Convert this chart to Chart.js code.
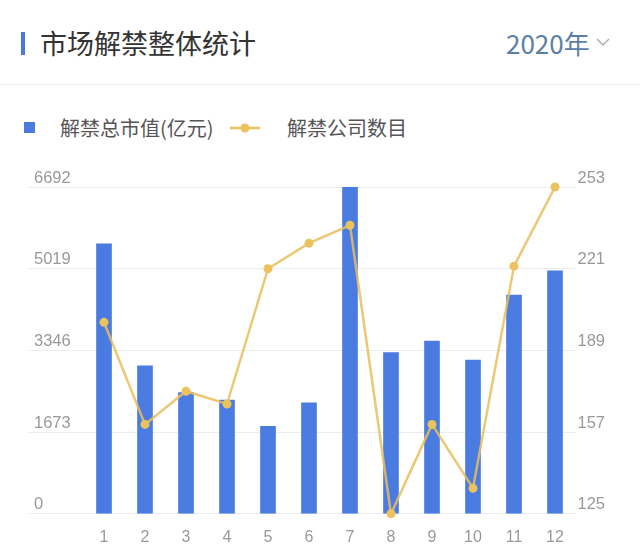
<!DOCTYPE html>
<html>
<head>
<meta charset="utf-8">
<script src="https://cdn.jsdelivr.net/npm/chart.js@4/dist/chart.umd.min.js"></script>
<style>
    body { margin: 0; width: 640px; height: 557px; background: #fff; position: relative; overflow: hidden; font-family: "Noto Sans CJK SC", sans-serif; }
    .bar { position: absolute; left: 21px; top: 32px; width: 4px; height: 23px; background: #4a7bd4; }
    .title { position: absolute; left: 40px; top: 24px; font-size: 27px; line-height: 38px; color: #333; }
    .year { position: absolute; left: 506px; top: 24px; font-size: 26px; line-height: 38px; color: #5b7fa6; }
    .chev { position: absolute; left: 595px; top: 35px; }
    .sep { position: absolute; left: 0; top: 84px; width: 640px; height: 1px; background: #ececec; }
    .lg { position: absolute; top: 113px; font-size: 20px; line-height: 30px; color: #555; }
    .sq { position: absolute; left: 24px; top: 122px; width: 11px; height: 11px; background: #4a7be0; }
    .ln { position: absolute; left: 230px; top: 119px; }
    #wrap { position: absolute; left: 0; top: 140px; width: 640px; height: 432px; }
</style>
</head>
<body>
<div class="bar"></div>
<div class="title">市场解禁整体统计</div>
<div class="year">2020年</div>
<svg class="chev" width="16" height="14"><polyline points="2,4 8,10 14,4" fill="none" stroke="#aaa" stroke-width="1.4"/></svg>
<div class="sep"></div>
<div class="sq"></div>
<div class="lg" style="left:60px">解禁总市值(亿元)</div>
<svg class="ln" width="30" height="18"><line x1="0" y1="9" x2="30" y2="9" stroke="#ebc25e" stroke-width="2.5"/><circle cx="15" cy="9" r="4.5" fill="#ebc25e"/></svg>
<div class="lg" style="left:287px">解禁公司数目</div>
<div id="wrap"><canvas id="myChart"></canvas></div>
<script>
    // months
    const months = ['1', '2', '3', '4', '5', '6', '7', '8', '9', '10', '11', '12'];
    // 解禁总市值(亿元)
    const marketValue = [5530, 3030, 2480, 2330, 1790, 2270, 6692, 3300, 3535, 3150, 4480, 4975];
    // 解禁公司数目
    const companyCount = [200, 160, 173, 168, 221, 231, 238, 125, 160, 135, 222, 253];
    // axis ticks
    const leftTicks = [0, 1673, 3346, 5019, 6692];
    const rightTicks = [125, 157, 189, 221, 253];

    const plain = (v) => String(v);

    const ctx = document.getElementById('myChart').getContext('2d');
    const myChart = new Chart(ctx, {
        type: 'bar',
        data: {
            labels: months,
            datasets: [{
                    type: 'line',
                    label: '解禁公司数目',
                    data: companyCount,
                    yAxisID: 'yRight',
                    borderColor: 'rgba(232, 190, 92, 0.85)',
                    backgroundColor: '#ebc25e',
                    borderWidth: 2.5,
                    pointRadius: 4.5,
                    pointBorderWidth: 0,
                    pointBackgroundColor: '#ebc25e',
                    tension: 0,
                    clip: false,
                    order: 0
                },
                {
                    label: '解禁总市值(亿元)',
                    data: marketValue,
                    yAxisID: 'yLeft',
                    backgroundColor: '#4a7be0',
                    barThickness: 15,
                    order: 1
                }
            ]
        },
        options: {
            responsive: true,
            maintainAspectRatio: false,
            animation: false,
            layout: { padding: { left: 34, right: 0, top: 47, bottom: 11 } },
            plugins: { legend: { display: false }, tooltip: { enabled: false } },
            scales: {
                x: {
                    grid: { display: false, drawTicks: false },
                    border: { display: false },
                    ticks: { color: '#999', padding: 14, font: { family: 'Liberation Sans', size: 16 } }
                },
                yLeft: {
                    position: 'left',
                    min: 0,
                    max: 6692,
                    afterBuildTicks: (s) => { s.ticks = leftTicks.map(v => ({ value: v })); },
                    afterFit: (s) => { s.width = 49.5; },
                    grid: { color: '#e9edf2', tickLength: 55, lineWidth: 1 },
                    border: { display: false },
                    ticks: { color: '#999', crossAlign: 'far', labelOffset: -9, callback: plain, font: { family: 'Liberation Sans', size: 16.5 } }
                },
                yRight: {
                    position: 'right',
                    min: 125,
                    max: 253,
                    afterBuildTicks: (s) => { s.ticks = rightTicks.map(v => ({ value: v })); },
                    afterFit: (s) => { s.width = 64.5; },
                    grid: { drawOnChartArea: false, drawTicks: false },
                    border: { display: false },
                    ticks: { color: '#999', padding: 2, labelOffset: -9, callback: plain, font: { family: 'Liberation Sans', size: 16.5 } }
                }
            }
        }
    });
</script>
</body>
</html>
